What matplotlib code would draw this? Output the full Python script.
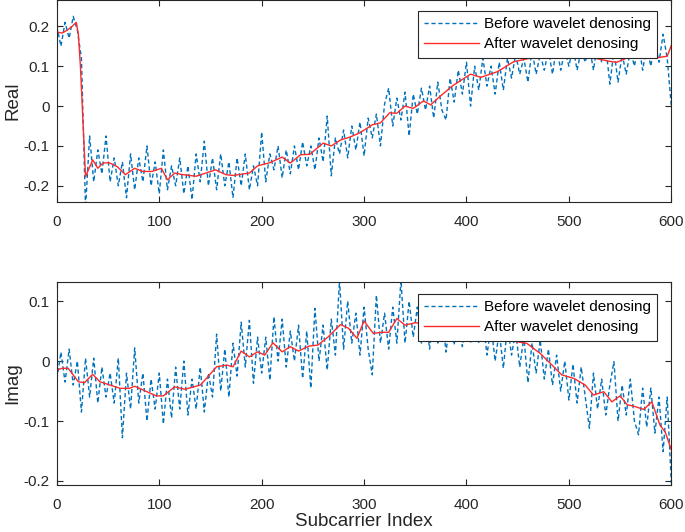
import numpy as np
import matplotlib
matplotlib.use("Agg")
import matplotlib.pyplot as plt

plt.rcParams['font.family'] = ['Liberation Sans', 'DejaVu Sans']

# subcarrier index for the noisy (before) series, read every 4th point
idx_before = np.arange(0, 601, 4)

real_before = [
    0.20, 0.15, 0.21, 0.17, 0.225, 0.19, 0.12, -0.255, -0.075, -0.19,
    -0.11, -0.17, -0.075, -0.19, -0.13, -0.20, -0.14, -0.23, -0.12, -0.21,
    -0.13, -0.19, -0.10, -0.20, -0.14, -0.22, -0.11, -0.21, -0.15, -0.20,
    -0.13, -0.22, -0.15, -0.235, -0.12, -0.19, -0.088, -0.20, -0.13, -0.21,
    -0.12, -0.20, -0.14, -0.23, -0.13, -0.20, -0.12, -0.21, -0.15, -0.20,
    -0.065, -0.19, -0.12, -0.16, -0.10, -0.18, -0.11, -0.17, -0.10, -0.16,
    -0.09, -0.15, -0.10, -0.16, -0.08, -0.14, -0.025, -0.175, -0.08, -0.12,
    -0.06, -0.13, -0.05, -0.11, -0.04, -0.125, -0.03, -0.08, -0.02, -0.10,
    0.005, 0.045, -0.05, 0.02, -0.035, 0.035, -0.075, 0.03, -0.02, 0.045,
    -0.01, 0.05, -0.03, 0.06, -0.01, -0.035, 0.07, 0.01, 0.09, 0.03,
    0.11, 0.00, 0.10, 0.04, 0.12, 0.05, 0.10, 0.03, 0.11, 0.04,
    0.12, 0.07, 0.13, 0.08, 0.12, 0.06, 0.14, 0.08, 0.13, 0.09,
    0.14, 0.08, 0.15, 0.09, 0.14, 0.10, 0.15, 0.09, 0.14, 0.11,
    0.15, 0.09, 0.16, 0.11, 0.15, 0.055, 0.14, 0.06, 0.13, 0.08,
    0.14, 0.10, 0.16, 0.09, 0.15, 0.10, 0.16, 0.11, 0.18, 0.12,
    0.00,
]

imag_before = [
    -0.03, 0.015, -0.035, 0.02, -0.04, 0.0, -0.085, 0.005, -0.06, 0.005,
    -0.07, -0.01, -0.06, -0.02, -0.07, 0.005, -0.128, -0.02, -0.08, 0.022,
    -0.07, -0.02, -0.10, -0.03, -0.08, -0.02, -0.105, -0.03, -0.095, -0.01,
    -0.08, 0.0, -0.09, -0.03, -0.08, -0.01, -0.085, -0.02, -0.06, 0.045,
    -0.05, 0.02, -0.06, 0.03, -0.025, 0.065, -0.01, 0.068, -0.037, 0.04,
    -0.02, 0.04, -0.032, 0.074, 0.0, 0.07, -0.01, 0.05, 0.0, 0.06,
    -0.029, 0.05, -0.045, 0.088, 0.0, 0.06, -0.015, 0.07, 0.01, 0.135,
    0.02, 0.10, 0.03, 0.08, 0.01, 0.09, 0.02, -0.023, 0.11, 0.03,
    0.08, 0.02, 0.09, 0.03, 0.135, 0.03, 0.10, 0.04, 0.09, 0.03,
    0.08, 0.02, 0.09, 0.03, 0.08, 0.015, 0.07, 0.027, 0.08, 0.024,
    0.07, 0.03, 0.08, 0.03, 0.07, 0.01, 0.06, 0.0, 0.05, -0.012,
    0.06, 0.01, 0.05, -0.01, 0.04, -0.036, 0.03, -0.02, 0.035, -0.03,
    0.02, -0.04, 0.01, -0.05, 0.0, -0.065, -0.005, -0.07, -0.01, -0.06,
    -0.112, -0.02, -0.08, -0.03, -0.09, -0.04, -0.001, -0.10, -0.04, -0.09,
    -0.03, -0.10, -0.123, -0.045, -0.11, -0.045, -0.12, -0.06, -0.151, -0.06,
    -0.203,
]

# denoised (after) series
idx_real_after = [0, 5, 10, 15, 19, 21, 23, 28, 35, 40, 45, 51, 59, 67, 76, 84,
                  93, 102, 108, 115, 123, 136, 155, 165, 172, 188, 196, 208,
                  220, 228, 238, 247, 260, 268, 277, 286, 296, 308, 316, 325,
                  332, 340, 348, 358, 365, 374, 387, 404, 414, 430, 446, 462,
                  480, 500, 520, 540, 547, 556, 570, 583, 596, 600]
real_after = [0.186, 0.183, 0.19, 0.2, 0.21, 0.18, 0.10, -0.177, -0.135, -0.156,
              -0.143, -0.142, -0.152, -0.172, -0.156, -0.164, -0.164, -0.156,
              -0.185, -0.168, -0.172, -0.176, -0.16, -0.172, -0.174, -0.168,
              -0.15, -0.142, -0.128, -0.143, -0.122, -0.121, -0.093, -0.1,
              -0.085, -0.078, -0.067, -0.047, -0.042, -0.017, -0.018, 0.0,
              -0.006, 0.013, 0.003, 0.024, 0.052, 0.08, 0.072, 0.086, 0.111,
              0.12, 0.122, 0.124, 0.123, 0.112, 0.11, 0.12, 0.12, 0.12, 0.125,
              0.152]

idx_imag_after = [0, 5, 11, 21, 27, 35, 42, 52, 62, 71, 76, 84, 97, 104, 115,
                  125, 140, 146, 156, 166, 172, 180, 188, 196, 203, 211, 220,
                  228, 236, 246, 255, 265, 277, 285, 293, 300, 309, 316, 324,
                  332, 340, 350, 360, 380, 400, 420, 440, 459, 472, 482, 493,
                  505, 516, 524, 534, 542, 550, 557, 563, 573, 581, 589, 594, 600]
imag_after = [-0.015, -0.012, -0.012, -0.0345, -0.036, -0.022, -0.0345, -0.04,
              -0.0455, -0.0455, -0.042, -0.048, -0.058, -0.058, -0.043, -0.047,
              -0.04, -0.029, -0.0095, -0.0067, -0.0095, 0.0167, 0.007, 0.0155,
              0.01, 0.0305, 0.0155, 0.024, 0.0167, 0.025, 0.0267, 0.0405, 0.061,
              0.0545, 0.038, 0.067, 0.046, 0.048, 0.048, 0.071, 0.06, 0.064,
              0.062, 0.06, 0.055, 0.045, 0.035, 0.0295, 0.0128, -0.004, -0.023,
              -0.029, -0.04, -0.0567, -0.051, -0.068, -0.058, -0.073, -0.075,
              -0.0806, -0.068, -0.107, -0.118, -0.148]

blue = '#0072BD'
red = '#ff2a2a'
axcol = '0.15'

fig = plt.figure(figsize=(6.85, 5.32), dpi=100)
ax1 = fig.add_axes([0.083, 0.620, 0.897, 0.380])
ax2 = fig.add_axes([0.083, 0.088, 0.897, 0.382])

panels = [
    (ax1, real_before, idx_real_after, real_after, 'Real', (-0.241, 0.266), [-0.2, -0.1, 0, 0.1, 0.2], 0.946),
    (ax2, imag_before, idx_imag_after, imag_after, 'Imag', (-0.207, 0.132), [-0.2, -0.1, 0, 0.1], 0.941),
]

for ax, before, ia, after, lab, ylim, yt, ltop in panels:
    ax.plot(idx_before, before, color=blue, lw=1.0, ls=(0, (3, 2)),
            label='Before wavelet denosing')
    ax.plot(ia, after, color=red, lw=1.0, label='After wavelet denosing')
    ax.set_xlim(0, 600)
    ax.set_ylim(*ylim)
    ax.set_xticks([0, 100, 200, 300, 400, 500, 600])
    ax.set_yticks(yt)
    ax.set_yticklabels(['0' if v == 0 else f'{v:g}' for v in yt])
    ax.set_ylabel(lab, fontsize=13.5, color=axcol, labelpad=2)
    ax.tick_params(direction='in', length=4, width=0.8, top=True, right=True,
                   labelsize=11, colors=axcol, pad=5)
    ax.tick_params(axis='x', pad=9)
    for s in ax.spines.values():
        s.set_color(axcol)
        s.set_linewidth(0.8)
    leg = ax.legend(loc='upper right', bbox_to_anchor=(0.977, ltop),
                    borderaxespad=0, fancybox=False, fontsize=11,
                    handlelength=3.6, handletextpad=0.35, labelspacing=0.42,
                    borderpad=0.4, framealpha=1)
    leg.get_frame().set_edgecolor(axcol)
    leg.get_frame().set_linewidth(0.8)
    for t in leg.get_texts():
        t.set_color('black')

ax2.set_xlabel('Subcarrier Index', fontsize=13.5, color=axcol, labelpad=1)

fig.savefig('out.png', dpi=100)
